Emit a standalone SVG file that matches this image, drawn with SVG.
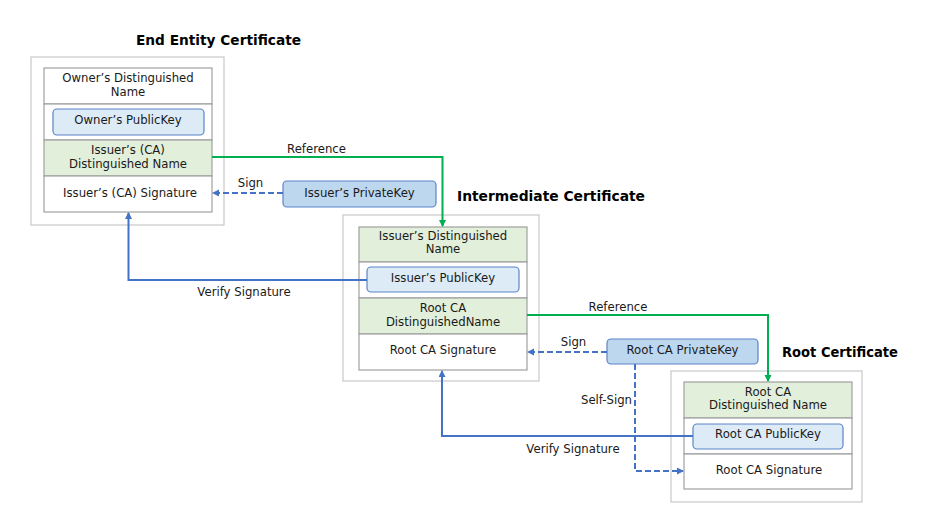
<svg xmlns="http://www.w3.org/2000/svg" width="937" height="527" viewBox="0 0 937 527">
<defs>
<style>
text{font-family:"DejaVu Sans",Verdana,sans-serif;font-size:11.7px;fill:#1a1a1a}
.t{font-weight:bold;font-size:13.7px;fill:#000;text-anchor:middle}
.c{text-anchor:middle}
.outer{fill:#fff;stroke:#c8c8c8;stroke-width:1.2}
.row{fill:#fff;stroke:#a0a0a0;stroke-width:1.2}
.dn{fill:#e2efda;stroke:#a0a0a0;stroke-width:1.2}
.pub{fill:#ddebf7;stroke:#5b84c8;stroke-width:1.2}
.priv{fill:#bdd7ee;stroke:#5b84c8;stroke-width:1.2}
.g{fill:none;stroke:#00b050;stroke-width:2}
.b{fill:none;stroke:#4472c4;stroke-width:2}
.d{fill:none;stroke:#4472c4;stroke-width:2;stroke-dasharray:6,3}
</style>
<marker id="ag" markerUnits="userSpaceOnUse" markerWidth="8" markerHeight="8" refX="6" refY="3.5" orient="auto"><path d="M0,0 L7,3.5 L0,7 z" fill="#00b050"/></marker>
<marker id="ab" markerUnits="userSpaceOnUse" markerWidth="8" markerHeight="8" refX="6" refY="3.5" orient="auto"><path d="M0,0 L7,3.5 L0,7 z" fill="#4472c4"/></marker>
</defs>
<rect width="937" height="527" fill="#fff"/>

<g id="end-entity">
<text class="t" x="218.5" y="45" textLength="165" lengthAdjust="spacingAndGlyphs">End Entity Certificate</text>
<rect class="outer" x="31" y="57" width="193" height="168"/>
<rect class="row" x="44" y="68" width="168" height="36"/>
<text class="c" x="128" y="82">Owner’s Distinguished</text>
<text class="c" x="128" y="96">Name</text>
<rect class="row" x="44" y="104" width="168" height="36"/>
<rect class="pub" x="53" y="109" width="151" height="26" rx="4"/>
<text class="c" x="128" y="124">Owner’s PublicKey</text>
<rect class="dn" x="44" y="140" width="168" height="36"/>
<text class="c" x="128" y="154">Issuer’s (CA)</text>
<text class="c" x="128" y="168">Distinguished Name</text>
<rect class="row" x="44" y="176" width="168" height="36"/>
<text class="c" x="130" y="197">Issuer’s (CA) Signature</text>
</g>

<g id="issuer-private-key">
<rect class="priv" x="283" y="181" width="153" height="26" rx="4"/>
<text class="c" x="359.5" y="197">Issuer’s PrivateKey</text>
</g>

<g id="intermediate">
<text class="t" x="551" y="200.5" textLength="188" lengthAdjust="spacingAndGlyphs">Intermediate Certificate</text>
<rect class="outer" x="343" y="215" width="196" height="166"/>
<rect class="dn" x="359" y="227" width="168" height="35"/>
<text class="c" x="443" y="240">Issuer’s Distinguished</text>
<text class="c" x="443" y="253">Name</text>
<rect class="row" x="359" y="262" width="168" height="36"/>
<rect class="pub" x="367" y="267" width="152" height="25" rx="4"/>
<text class="c" x="443" y="282">Issuer’s PublicKey</text>
<rect class="dn" x="359" y="298" width="168" height="36"/>
<text class="c" x="443" y="312">Root CA</text>
<text class="c" x="443" y="326">DistinguishedName</text>
<rect class="row" x="359" y="334" width="168" height="36"/>
<text class="c" x="443" y="354">Root CA Signature</text>
</g>

<g id="root-private-key">
<rect class="priv" x="607" y="339" width="151" height="25" rx="4"/>
<text class="c" x="682.5" y="354">Root CA PrivateKey</text>
</g>

<g id="root">
<text class="t" x="840" y="356.5" textLength="116" lengthAdjust="spacingAndGlyphs">Root Certificate</text>
<rect class="outer" x="671" y="371" width="191" height="131"/>
<rect class="dn" x="684" y="382" width="168" height="36"/>
<text class="c" x="768" y="396">Root CA</text>
<text class="c" x="768" y="409">Distinguished Name</text>
<rect class="row" x="684" y="418" width="168" height="36"/>
<rect class="pub" x="693" y="424" width="150" height="25" rx="4"/>
<text class="c" x="768" y="438">Root CA PublicKey</text>
<rect class="row" x="684" y="454" width="168" height="35"/>
<text class="c" x="769" y="474">Root CA Signature</text>
</g>

<g id="connectors">
<path class="g" d="M212,157 H442.5 V226" marker-end="url(#ag)"/>
<text class="c" x="316.5" y="153">Reference</text>
<path class="d" d="M283,193 H213" marker-end="url(#ab)"/>
<text class="c" x="250.5" y="187">Sign</text>
<path class="b" d="M367,280 H128.5 V213" marker-end="url(#ab)"/>
<text class="c" x="244" y="296">Verify Signature</text>
<path class="g" d="M527,315 H768 V381" marker-end="url(#ag)"/>
<text class="c" x="618" y="311">Reference</text>
<path class="d" d="M607,352 H528" marker-end="url(#ab)"/>
<text class="c" x="573.5" y="346">Sign</text>
<path class="d" d="M635,364 V471 H683" marker-end="url(#ab)"/>
<text class="c" x="606.5" y="404">Self-Sign</text>
<path class="b" d="M693,436 H442 V371" marker-end="url(#ab)"/>
<text class="c" x="573" y="453">Verify Signature</text>
</g>
</svg>
